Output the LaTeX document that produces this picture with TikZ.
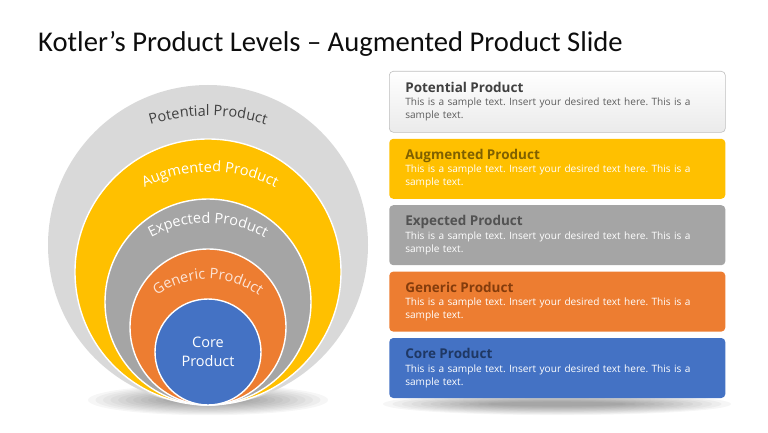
\documentclass[tikz,border=0pt]{standalone}
\usepackage{fontspec}
\usepackage{tikz}
\usetikzlibrary{positioning,decorations.text}
\setmainfont{Open Sans}
\newfontfamily\titlefont{Carlito}
\newfontfamily\levelfont{Open Sans}
\frenchspacing
\definecolor{potGray}{HTML}{D9D9D9}
\definecolor{augYellow}{HTML}{FFC000}
\definecolor{expGray}{HTML}{A5A5A5}
\definecolor{genOrange}{HTML}{ED7D31}
\definecolor{coreBlue}{HTML}{4472C4}
\definecolor{potDark}{HTML}{404040}
\definecolor{augDark}{HTML}{7F6000}
\definecolor{expDark}{HTML}{525252}
\definecolor{genDark}{HTML}{843C0C}
\definecolor{coreDark}{HTML}{1F3864}
\definecolor{genPale}{HTML}{FCE4D6}
\tikzset{
  level/.style={circle,inner sep=0pt,draw=white,line width=1.4pt},
  levelbox/.style={rectangle,rounded corners=4pt,minimum height=60pt,text width=304pt,
    inner xsep=16pt,inner ysep=0pt,align=left,font=\levelfont\fontsize{10.1}{13}\selectfont},
  arclabel/.style={decorate,decoration={text along path,text align=center,
    text={|\levelfont\fontsize{14.5}{14.5}\selectfont|#1}}},
  softshade/.style={black,opacity=0.036}
}
\newcommand\sampletext{This is a sample text. Insert your desired text here. This is a\\sample text.}
\newcommand\boxhead[2]{{\fontsize{13.5}{17}\selectfont\bfseries\color{#1}#2}}
\begin{document}
\begin{tikzpicture}[x=1pt,y=1pt]
  \useasboundingbox (0,0) rectangle (768,432);
  % title
  \node[anchor=base west,inner sep=0pt,font=\titlefont\fontsize{28.6}{32}\selectfont,text=black!95] (title)
    at (38,380) {Kotler’s Product Levels – Augmented Product Slide};
  % soft shadows
  \foreach \k in {1,...,12}
    \fill[softshade] (208,32) ellipse [x radius={30+7.5*\k},y radius={2+1.1*\k}];
  \foreach \k in {1,...,12}
    \fill[softshade] (557,28) ellipse [x radius={60+9.5*\k},y radius={1.5+0.8*\k}];
  % nested circles
  \node[level,draw=none,fill=potGray,minimum size=320pt] (potential) at (208,187) {};
  \node[level,fill=augYellow,minimum size=266pt] (augmented) at (208,160) {};
  \node[level,fill=expGray,minimum size=206pt] (expected) at (208,130) {};
  \node[level,fill=genOrange,minimum size=156pt] (generic) at (208,105) {};
  \node[level,fill=coreBlue,minimum size=106pt,align=center,text=white,
    font=\levelfont\fontsize{14.5}{19}\selectfont] (core) at (208,80) {Core\\Product};
  % curved labels
  \path[arclabel=Potential Product,decoration={text color=potDark}]
    ([shift={(150:200)}]208,116) arc[start angle=150,end angle=30,radius=200];
  \path[arclabel=Augmented Product,decoration={text color=white}]
    ([shift={(150:145)}]210,115) arc[start angle=150,end angle=30,radius=145];
  \path[arclabel=Expected Product,decoration={text color=white}]
    ([shift={(150:120)}]208,89) arc[start angle=150,end angle=30,radius=120];
  \path[arclabel=Generic Product,decoration={text color=genPale}]
    ([shift={(155:86)}]208,67) arc[start angle=155,end angle=25,radius=86];
  % description boxes
  \node[levelbox,anchor=north west,minimum height=61pt,draw=black!25,line width=0.6pt,
    top color=white,bottom color=black!8,text=potDark!85] (potBox) at (389,361)
    {\boxhead{potDark}{Potential Product}\\[0.5pt]\sampletext};
  \node[levelbox,below=6pt of potBox,fill=augYellow,text=white] (augBox)
    {\boxhead{augDark}{Augmented Product}\\[0.5pt]\sampletext};
  \node[levelbox,below=6pt of augBox,fill=expGray,text=white] (expBox)
    {\boxhead{expDark}{Expected Product}\\[0.5pt]\sampletext};
  \node[levelbox,below=6pt of expBox,fill=genOrange,text=white] (genBox)
    {\boxhead{genDark}{Generic Product}\\[0.5pt]\sampletext};
  \node[levelbox,below=6pt of genBox,fill=coreBlue,text=white] (coreBox)
    {\boxhead{coreDark}{Core Product}\\[0.5pt]\sampletext};
\end{tikzpicture}
\end{document}
